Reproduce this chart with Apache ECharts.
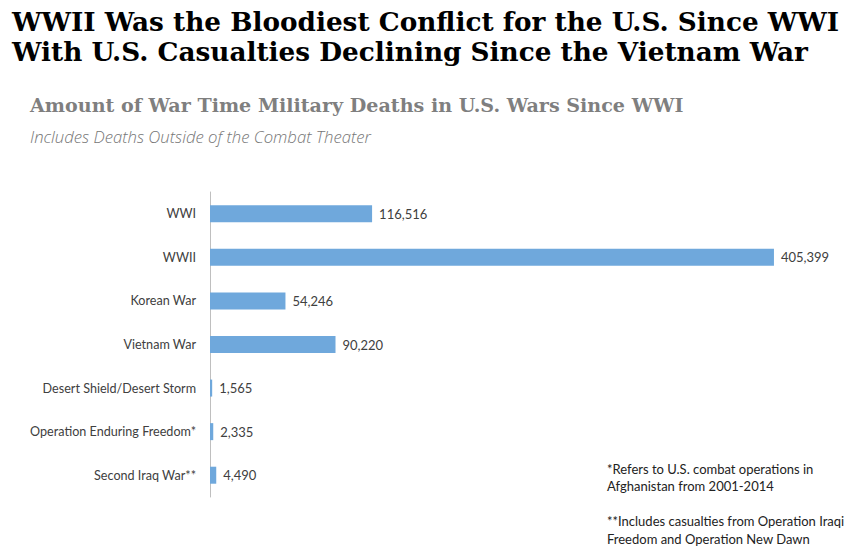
<!DOCTYPE html>
<html>
<head>
<meta charset="utf-8">
<script src="https://cdn.jsdelivr.net/npm/echarts@6/dist/echarts.min.js"></script>
<style>
  html, body { margin: 0; padding: 0; background: #fff; }
  #chart { width: 862px; height: 554px; }
</style>
</head>
<body>
<div id="chart"></div>
<script>
var wars = ['WWI', 'WWII', 'Korean War', 'Vietnam War', 'Desert Shield/Desert Storm', 'Operation Enduring Freedom*', 'Second Iraq War**'];
var deaths = [116516, 405399, 54246, 90220, 1565, 2335, 4490];

var chart = echarts.init(document.getElementById('chart'), null, {renderer: 'svg'});

var option = {
    animation: false,
    backgroundColor: '#fff',
    title: [
        {
            text: 'WWII Was the Bloodiest Conflict for the U.S. Since WWI\nWith U.S. Casualties Declining Since the Vietnam War',
            left: 7, top: 1,
            textStyle: {fontFamily: 'DejaVu Serif', fontWeight: 'bold', fontSize: 26.3, color: '#000', lineHeight: 30}
        },
        {
            text: 'Amount of War Time Military Deaths in U.S. Wars Since WWI',
            left: 25, top: 91,
            textStyle: {fontFamily: 'DejaVu Serif', fontWeight: 'bold', fontSize: 19.1, color: '#7f7f7f'}
        },
        {
            text: 'Includes Deaths Outside of the Combat Theater',
            left: 25, top: 123,
            textStyle: {fontFamily: 'Open Sans', fontStyle: 'italic', fontWeight: 300, fontSize: 16.7, color: '#767676'}
        },
        {
            text: '*Refers to U.S. combat operations in\nAfghanistan from 2001-2014\n\n**Includes casualties from Operation Iraqi\nFreedom and Operation New Dawn',
            left: 602, top: 455,
            textStyle: {fontFamily: 'Lato', fontWeight: 'normal', fontSize: 13, color: '#222', lineHeight: 17.5}
        }
    ],
    grid: {left: 210, right: 26, top: 192, height: 305, containLabel: false},
    xAxis: {
        type: 'value',
        min: 0, max: 450000,
        show: false
    },
    yAxis: {
        type: 'category',
        inverse: true,
        data: wars,
        axisLine: {show: true, lineStyle: {color: '#bfbfbf', width: 1}},
        axisTick: {show: false},
        axisLabel: {fontFamily: 'Lato', fontSize: 12.6, color: '#404040', margin: 14}
    },
    series: [{
        type: 'bar',
        data: deaths,
        barWidth: 17,
        itemStyle: {color: '#6fa8dc'},
        label: {
            show: true,
            position: 'right',
            distance: 7,
            fontFamily: 'Lato', fontSize: 13, color: '#404040',
            formatter: function (p) { return p.value.toLocaleString('en-US'); }
        }
    }]
};

chart.setOption(option);
</script>
</body>
</html>
